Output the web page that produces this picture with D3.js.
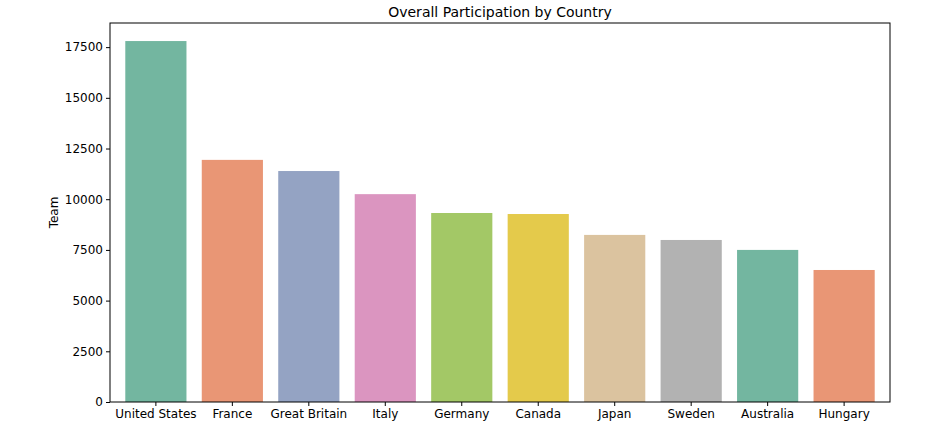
<!DOCTYPE html><html><head><script src="https://cdn.jsdelivr.net/npm/d3@7"></script>
<style>body{margin:0;background:#fff}</style></head><body><svg id="c" width="945" height="428"></svg>
<script>
const countries=["United States","France","Great Britain","Italy","Germany","Canada","Japan","Sweden","Australia","Hungary"];
const values=[17800,11940,11390,10250,9320,9270,8240,7990,7500,6510];
const colors=["#73b6a0","#e99675","#94a3c3","#db95c0","#a3c866","#e4ca4b","#dbc39f","#b2b2b2","#73b6a0","#e99675"];
const ticks=[0,2500,5000,7500,10000,12500,15000,17500];
const svg=d3.select("#c"),L=110,R=890,T=23,B=402;
const x=d3.scaleBand().domain(countries).range([L,R]).padding(0.2);
const y=d3.scaleLinear().domain([0,18690]).range([B,T]);
svg.selectAll("rect.b").data(values).join("rect").attr("x",(d,i)=>x(countries[i])).attr("width",x.bandwidth())
 .attr("y",d=>y(d)).attr("height",d=>B-y(d)).attr("fill",(d,i)=>colors[i]);
const f="font-family:'DejaVu Sans';font-size:12px;fill:#000";
svg.append("g").attr("transform",`translate(0,${B})`).call(d3.axisBottom(x).tickSizeOuter(0).tickSize(4)).call(g=>{g.select(".domain").remove();g.selectAll("text").attr("style",f)});
svg.append("g").attr("transform",`translate(${L},0)`).call(d3.axisLeft(y).tickValues(ticks).tickFormat(d3.format("d")).tickSize(4)).call(g=>{g.select(".domain").remove();g.selectAll("text").attr("style",f)});
svg.append("rect").attr("x",L).attr("y",T).attr("width",R-L).attr("height",B-T).attr("fill","none").attr("stroke","#000").attr("stroke-width",1);
svg.append("text").attr("x",(L+R)/2).attr("y",17).attr("text-anchor","middle").attr("style","font-family:'DejaVu Sans';font-size:14px").text("Overall Participation by Country");
svg.append("text").attr("transform",`translate(58,${(T+B)/2}) rotate(-90)`).attr("text-anchor","middle").attr("style",f).text("Team");
</script></body></html>
